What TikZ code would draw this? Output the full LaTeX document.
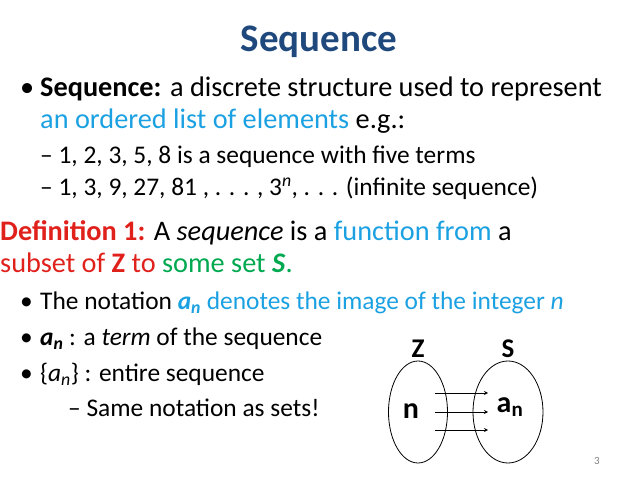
\documentclass[tikz,border=0pt]{standalone}
\usepackage{fontspec}
\setmainfont{Carlito}
\definecolor{tblue}{HTML}{1F497D}
\definecolor{cy}{HTML}{1BA1E2}
\definecolor{rd}{HTML}{E0201B}
\definecolor{gr}{HTML}{00A84F}
\begin{document}
\begin{tikzpicture}[x=1pt,y=-1pt,
  txt/.style={anchor=base west,inner sep=0pt,font=\fontsize{28.3}{32}\selectfont},
  sub/.style={anchor=base west,inner sep=0pt,font=\fontsize{25.4}{29}\selectfont},
  arr/.style={->,>=stealth,thick}]
\useasboundingbox (0,0) rectangle (638,478);
\node[inner sep=0pt,font=\fontsize{39}{44}\selectfont\bfseries,text=tblue] (title) at (319,42) {Sequence};
\node[txt] (b1) at (20,97) {•};
\node[txt] (l1) at (40,97) {\textbf{Sequence:} a discrete structure used to represent};
\node[txt] (l2) at (40,129) {\textcolor{cy}{an ordered list of elements} e.g.:};
\node[sub] (l3) at (40,164) {– 1, 2, 3, 5, 8 is a sequence with five terms};
\node[sub] (l4) at (40,196) {– 1, 3, 9, 27, 81 , . . . , 3\textsuperscript{\itshape n}, . . . (infinite sequence)};
\node[txt] (l5) at (0,241) {\textcolor{rd}{\textbf{Definition 1:}} A \textit{sequence} is a \textcolor{cy}{function from} a};
\node[txt] (l6) at (0,273) {\textcolor{rd}{subset of \textbf{Z} to} \textcolor{gr}{some set \textbf{\textit{S}}.}};
\node[sub] (b2) at (20,310) {•};
\node[sub] (l7) at (40,310) {The notation \textcolor{cy}{\textbf{\textit{a\textsubscript{n}}} denotes the image of the integer \textit{n}}};
\node[sub] (b3) at (20,346) {•};
\node[sub] (l8) at (40,346) {\textbf{\textit{a\textsubscript{n}}} : a \textit{term} of the sequence};
\node[sub] (b4) at (20,382) {•};
\node[sub] (l9) at (40,382) {\{\textit{a\textsubscript{n}}\} : entire sequence};
\node[sub] (l10) at (68,417) {– Same notation as sets!};
\node[font=\fontsize{11}{13}\selectfont,text=gray] (pg) at (597,461) {3};
% diagram
\draw[thick] (418,412) ellipse (29.5 and 51);
\draw[thick] (508,412) ellipse (35 and 51);
\node[font=\fontsize{27}{30}\selectfont\bfseries] (Z) at (418,349) {Z};
\node[font=\fontsize{27}{30}\selectfont\bfseries] (S) at (508,349) {S};
\node[font=\fontsize{30}{34}\selectfont\bfseries] (n) at (411,411) {n};
\node[font=\fontsize{30}{34}\selectfont\bfseries] (an) at (510,407) {a\textsubscript{n}};
\coordinate (s1) at (435,393); \coordinate (e1) at (488,393);
\coordinate (s2) at (435,412); \coordinate (e2) at (488,412);
\coordinate (s3) at (435,430); \coordinate (e3) at (488,430);
\draw[arr] (s1) -- (e1);
\draw[arr] (s2) -- (e2);
\draw[arr] (s3) -- (e3);
\end{tikzpicture}
\end{document}
